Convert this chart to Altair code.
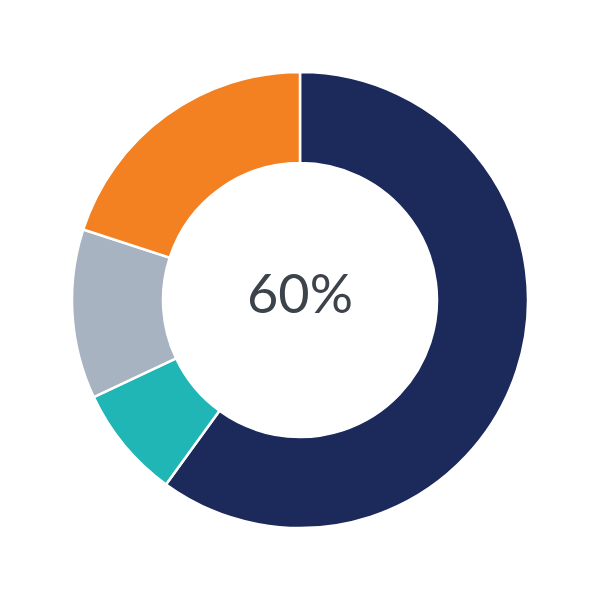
import altair as alt
import pandas as pd

# slices, clockwise from the top
segments = ["Navy", "Teal", "Gray", "Orange"]
shares = [60, 8, 12, 20]
colors = ["#1b2a5a", "#20b6b6", "#a8b3c2", "#f38021"]
center_label = ["60%"]

dat = pd.DataFrame({"segment": segments, "share": shares, "rank": list(range(len(segments)))})

donut = alt.Chart(dat).mark_arc(
    innerRadius=137, outerRadius=228, stroke="white", strokeWidth=2.5
).encode(
    theta=alt.Theta("share:Q", stack=True),
    color=alt.Color("segment:N", scale=alt.Scale(domain=segments, range=colors), legend=None),
    order=alt.Order("rank:Q"),
)

label = alt.Chart(pd.DataFrame({"label": center_label})).mark_text(
    font="Lato", fontSize=54, color="#3c434a", baseline="middle", align="center"
).encode(
    text="label:N",
    x=alt.value(292),
    y=alt.value(289),
)

chart = alt.layer(donut, label).properties(
    width=584, height=584, padding=0
).configure(background="white").configure_view(stroke=None)

chart.save("out.html", embed_options={"renderer": "svg", "actions": False})
